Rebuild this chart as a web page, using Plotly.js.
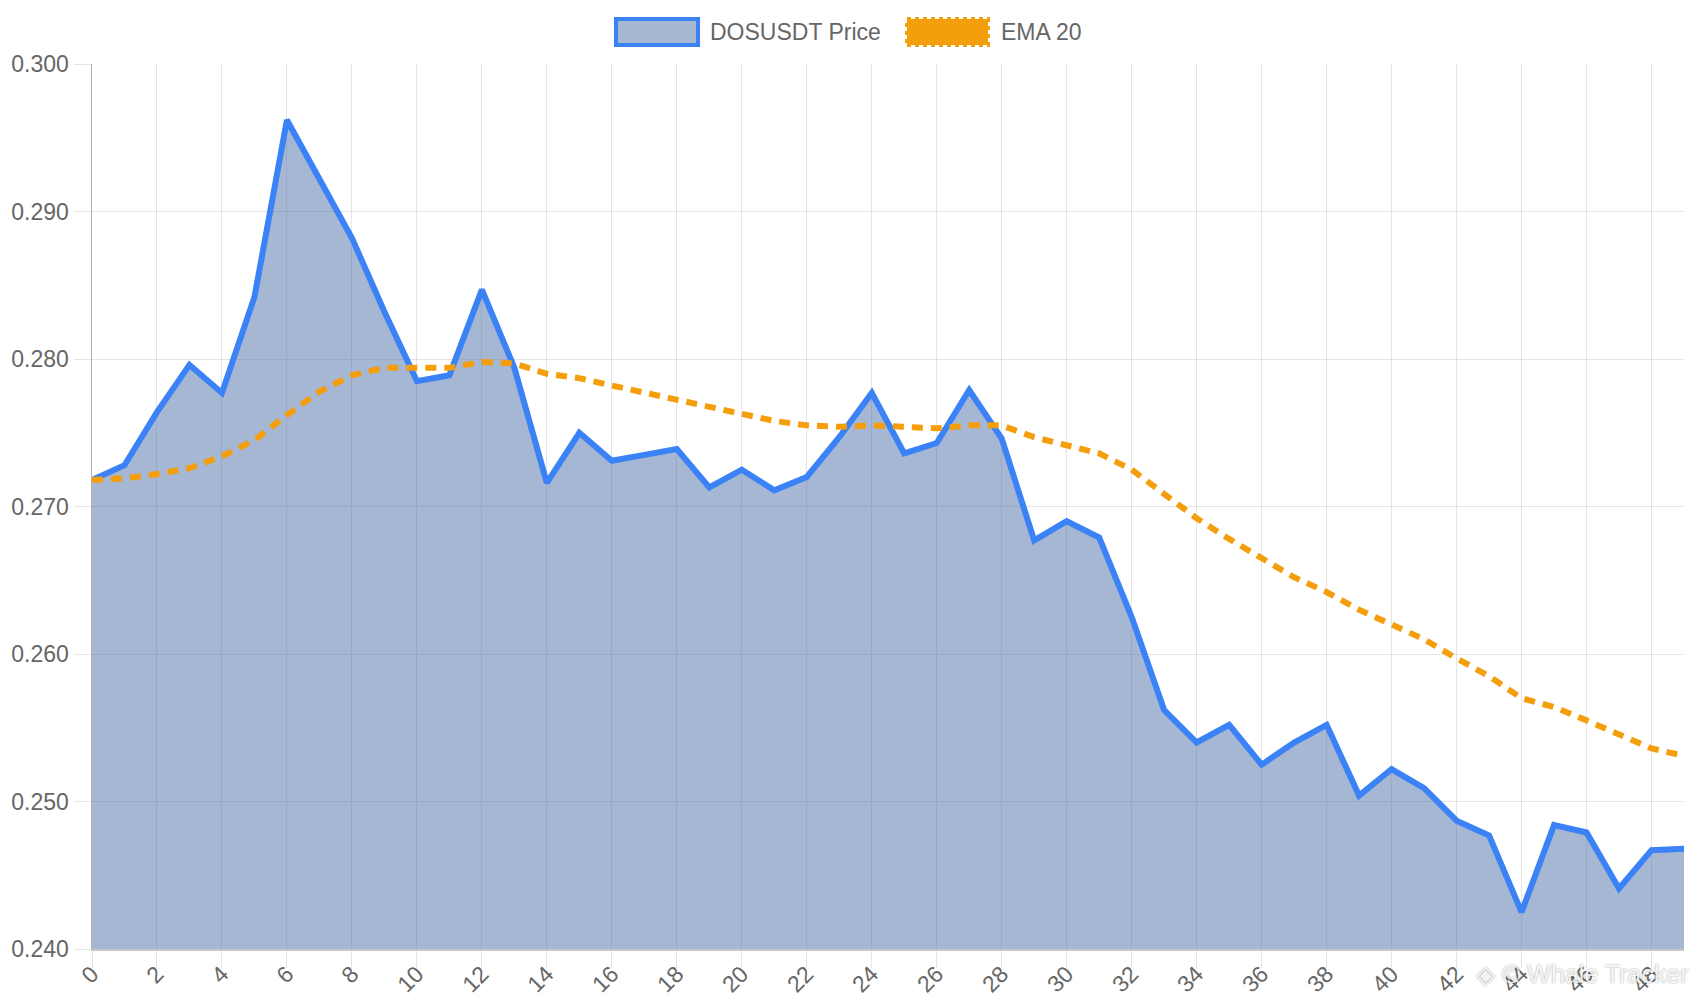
<!DOCTYPE html>
<html>
<head>
<meta charset="utf-8">
<script src="https://cdn.plot.ly/plotly-3.0.1.min.js"></script>
<style>html,body{margin:0;padding:0;background:#fff;}#chart{width:1700px;height:1000px;}</style>
</head>
<body>
<div id="chart"></div>
<script>
const indices = [0,1,2,3,4,5,6,7,8,9,10,11,12,13,14,15,16,17,18,19,20,21,22,23,24,25,26,27,28,29,30,31,32,33,34,35,36,37,38,39,40,41,42,43,44,45,46,47,48,49];
const price = [0.2718,0.2728,0.2764,0.2796,0.2777,0.2842,0.2962,0.2921,0.2882,0.2832,0.2785,0.2789,0.2847,0.2794,0.2716,0.2750,0.2731,0.2735,0.2739,0.2713,0.2725,0.2711,0.2720,0.2747,0.2777,0.2736,0.2743,0.2779,0.2746,0.2677,0.2690,0.2679,0.2625,0.2562,0.2540,0.2552,0.2525,0.2540,0.2552,0.2504,0.2522,0.2509,0.2487,0.2477,0.2425,0.2484,0.2479,0.2441,0.2467,0.2468];
const ema20 = [0.2718,0.2719,0.2722,0.2726,0.2734,0.2745,0.2762,0.2778,0.2789,0.2794,0.2794,0.2794,0.2798,0.2797,0.2790,0.2787,0.2782,0.2777,0.2772,0.2768,0.2763,0.2758,0.2755,0.2754,0.2755,0.2754,0.2753,0.2755,0.2755,0.2747,0.2742,0.2736,0.2725,0.2709,0.2692,0.2678,0.2665,0.2652,0.2642,0.2630,0.2620,0.2610,0.2597,0.2585,0.2570,0.2564,0.2555,0.2545,0.2536,0.2531];
const xTickVals = [0,2,4,6,8,10,12,14,16,18,20,22,24,26,28,30,32,34,36,38,40,42,44,46,48];
const yTickVals = [0.24,0.25,0.26,0.27,0.28,0.29,0.30];
const seriesNames = ['DOSUSDT Price','EMA 20'];
const watermark = '© Whale Tracker';

const W = 1700, H = 1000;
const M = {l: 92, r: 16, t: 64, b: 51};
const pw = W - M.l - M.r, ph = H - M.t - M.b;
const px = x => (x - M.l) / pw;
const py = y => (H - M.b - y) / ph;

const BLUE = 'rgb(59,130,246)';
const FILL = 'rgba(76,111,166,0.5)';
const ORANGE = 'rgb(245,158,11)';
const FONT = 'Liberation Sans, Arial, sans-serif';

const traces = [
  {x: indices, y: price, type: 'scatter', mode: 'lines', name: seriesNames[0],
   fill: 'tozeroy', fillcolor: FILL, line: {color: BLUE, width: 6}},
  {x: indices, y: ema20, type: 'scatter', mode: 'lines', name: seriesNames[1],
   line: {color: ORANGE, width: 6, dash: '11px,8px'}}
];

const layout = {
  width: W, height: H,
  margin: M,
  paper_bgcolor: '#fff', plot_bgcolor: '#fff',
  showlegend: false,
  font: {family: FONT, color: '#666', size: 23},
  xaxis: {
    range: [0, 49], tickmode: 'array', tickvals: xTickVals, ticktext: xTickVals.map(String),
    tickangle: -45, showgrid: true, gridcolor: 'rgba(0,0,0,0.1)', gridwidth: 1,
    ticks: 'outside', ticklen: 17, tickcolor: 'rgba(0,0,0,0.1)',
    ticklabelstandoff: -16,
    showline: true, linecolor: 'rgba(0,0,0,0.22)', linewidth: 1.5,
    zeroline: false, tickfont: {size: 23, color: '#666'}
  },
  yaxis: {
    range: [0.24, 0.30], tickmode: 'array', tickvals: yTickVals, tickformat: '.3f',
    showgrid: true, gridcolor: 'rgba(0,0,0,0.1)', gridwidth: 1,
    ticks: 'outside', ticklen: 17, tickcolor: 'rgba(0,0,0,0.1)',
    showline: true, linecolor: 'rgba(0,0,0,0.3)', linewidth: 1.5,
    zeroline: false, tickfont: {size: 23, color: '#666'}
  },
  shapes: [
    {type: 'rect', xref: 'paper', yref: 'paper', x0: px(616), x1: px(698), y0: py(45), y1: py(19),
     fillcolor: 'rgb(166,184,210)', line: {color: BLUE, width: 4}},
    {type: 'rect', xref: 'paper', yref: 'paper', x0: px(907), x1: px(988), y0: py(45), y1: py(19),
     fillcolor: ORANGE, line: {color: ORANGE, width: 4, dash: 'dot'}}
  ],
  annotations: [
    {xref: 'paper', yref: 'paper', x: px(708), y: py(32), xanchor: 'left', yanchor: 'middle',
     text: seriesNames[0], showarrow: false, font: {size: 23, color: '#666', family: FONT}},
    {xref: 'paper', yref: 'paper', x: px(999), y: py(32), xanchor: 'left', yanchor: 'middle',
     text: seriesNames[1], showarrow: false, font: {size: 23, color: '#666', family: FONT}},
    {xref: 'paper', yref: 'paper', x: px(1474), y: py(974), xanchor: 'left', yanchor: 'middle',
     text: '◈ ' + watermark, showarrow: false,
     font: {size: 25, color: 'rgba(255,255,255,0.9)', family: FONT, shadow: '0px 0px 2px rgba(0,0,0,0.45)'}}
  ]
};

Plotly.newPlot('chart', traces, layout, {displayModeBar: false, staticPlot: true});
</script>
</body>
</html>
